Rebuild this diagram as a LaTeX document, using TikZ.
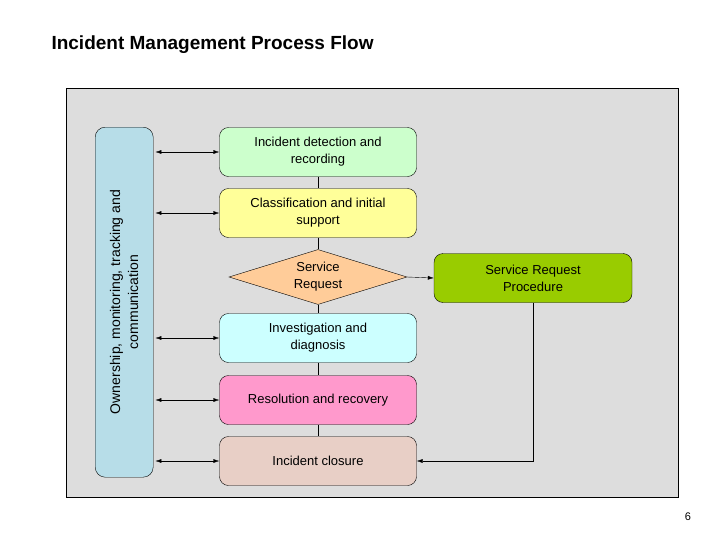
\documentclass[tikz,border=0pt]{standalone}
\usepackage{fontspec}
\setmainfont{Liberation Sans}
\usetikzlibrary{shapes.geometric,arrows.meta}
\definecolor{frame}{HTML}{DDDDDD}
\definecolor{side}{HTML}{B7DDE8}
\definecolor{c1}{HTML}{CCFFCC}
\definecolor{c2}{HTML}{FFFF99}
\definecolor{c3}{HTML}{FFCC99}
\definecolor{c4}{HTML}{CCFFFF}
\definecolor{c5}{HTML}{FF99CC}
\definecolor{c6}{HTML}{E8CFC6}
\definecolor{c7}{HTML}{99CC00}
\begin{document}
\begin{tikzpicture}[x=1pt,y=-1pt,
  box/.style={draw=black,rounded corners=9pt,minimum width=197pt,minimum height=49pt,align=center,font=\fontsize{13}{17}\selectfont},
  link/.style={black,thin},
  tip/.style={-{Latex[length=6pt,width=4pt]}},
  both/.style={{Latex[length=6pt,width=4pt]}-{Latex[length=6pt,width=4pt]},thin}]
\useasboundingbox (0,0) rectangle (728,546);
\node[anchor=west,font=\bfseries\fontsize{19}{22}\selectfont] (title) at (48,45) {Incident Management Process Flow};
\node[draw=black,fill=frame,minimum width=612pt,minimum height=409pt,anchor=north west,inner sep=0] (frm) at (66,88) {};
\node[draw=black,fill=side,rounded corners=10pt,minimum width=58pt,minimum height=350pt,anchor=north west,inner sep=0] (own) at (95,127) {};
\node[rotate=90,align=center,font=\fontsize{14}{18}\selectfont] (ownt) at (124,302) {Ownership, monitoring, tracking and\\communication};
\node[box,fill=c1] (b1) at (318,152) {Incident detection and\\recording};
\node[box,fill=c2] (b2) at (318,213) {Classification and initial\\support};
\node[draw=black,fill=c3,diamond,aspect=3.2,minimum width=178pt,minimum height=55pt,inner sep=0,align=center,font=\fontsize{13}{17}\selectfont] (d) at (318,277) {Service\\Request};
\node[box,fill=c4] (b4) at (318,338) {Investigation and\\diagnosis};
\node[box,fill=c5] (b5) at (318,400) {Resolution and recovery};
\node[box,fill=c6] (b6) at (318,461) {Incident closure};
\node[box,fill=c7,minimum width=198pt] (sr) at (533,278) {Service Request\\Procedure};
\node[font=\fontsize{11}{13}\selectfont] (pg) at (688,517) {6};
\draw[link] (b1) -- (b2);
\draw[link] (b2) -- (d);
\draw[link] (d) -- (b4);
\draw[link] (b4) -- (b5);
\draw[link] (b5) -- (b6);
\draw[link,tip] (d.east) -- (sr.west);
\draw[link,tip] (sr.south) |- (b6.east);
\foreach \b in {b1,b2,b4,b5,b6}
  \draw[both] (own.east |- \b.west) ++(2,0) coordinate (s\b) -- (\b.west);
\end{tikzpicture}
\end{document}
